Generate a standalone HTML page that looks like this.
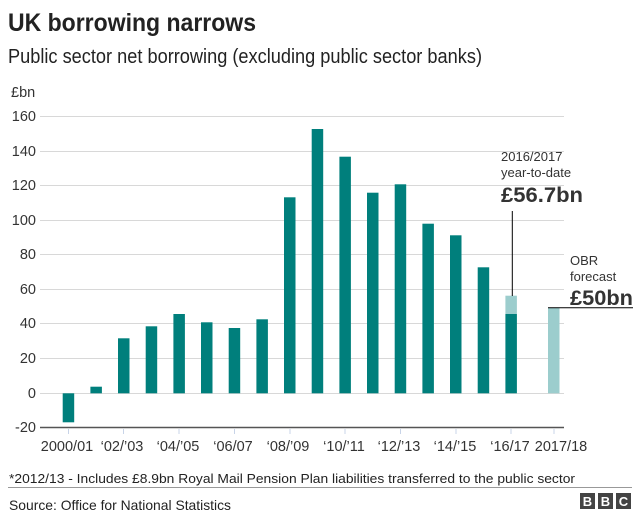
<!DOCTYPE html>
<html><head><meta charset="utf-8"><style>
html,body{margin:0;padding:0;background:#fff}
svg{display:block;font-family:"Liberation Sans",Arial,sans-serif}
</style></head><body>
<svg width="640" height="520" viewBox="0 0 640 520" xmlns="http://www.w3.org/2000/svg">
<text x="8" y="31" font-size="25" font-weight="bold" fill="#222" textLength="248" lengthAdjust="spacingAndGlyphs">UK borrowing narrows</text>
<text x="8" y="63" font-size="20" fill="#222" textLength="474" lengthAdjust="spacingAndGlyphs">Public sector net borrowing (excluding public sector banks)</text>
<g font-size="14.5" fill="#333">
<text x="11" y="97">£bn</text>
<text x="36" y="121" text-anchor="end">160</text>
<text x="36" y="156" text-anchor="end">140</text>
<text x="36" y="190" text-anchor="end">120</text>
<text x="36" y="225" text-anchor="end">100</text>
<text x="36" y="259" text-anchor="end">80</text>
<text x="36" y="294" text-anchor="end">60</text>
<text x="36" y="328" text-anchor="end">40</text>
<text x="36" y="363" text-anchor="end">20</text>
<text x="36" y="398" text-anchor="end">0</text>
<text x="36" y="432" text-anchor="end">-20</text>
</g>
<g stroke="#d8d8d8" stroke-width="1">
<line x1="40" x2="564" y1="116.5" y2="116.5"/>
<line x1="40" x2="564" y1="151.5" y2="151.5"/>
<line x1="40" x2="564" y1="185.5" y2="185.5"/>
<line x1="40" x2="564" y1="220.5" y2="220.5"/>
<line x1="40" x2="564" y1="254.5" y2="254.5"/>
<line x1="40" x2="564" y1="289.5" y2="289.5"/>
<line x1="40" x2="564" y1="323.5" y2="323.5"/>
<line x1="40" x2="564" y1="358.5" y2="358.5"/>
<line x1="40" x2="564" y1="393.5" y2="393.5"/>
</g>
<g fill="#007f7c">
<rect x="62.7" y="393.3" width="11.5" height="29"/>
<rect x="90.4" y="386.7" width="11.5" height="6.6"/>
<rect x="118" y="338.3" width="11.5" height="55"/>
<rect x="145.7" y="326.3" width="11.5" height="67"/>
<rect x="173.4" y="314" width="11.5" height="79.3"/>
<rect x="201" y="322.3" width="11.5" height="71"/>
<rect x="228.7" y="328" width="11.5" height="65.3"/>
<rect x="256.4" y="319.3" width="11.5" height="74"/>
<rect x="284" y="197.3" width="11.5" height="196"/>
<rect x="311.7" y="129" width="11.5" height="264.3"/>
<rect x="339.4" y="156.7" width="11.5" height="236.6"/>
<rect x="367" y="192.7" width="11.5" height="200.6"/>
<rect x="394.7" y="184.3" width="11.5" height="209"/>
<rect x="422.4" y="223.7" width="11.5" height="169.6"/>
<rect x="450" y="235.3" width="11.5" height="158"/>
<rect x="477.7" y="267.3" width="11.5" height="126"/>
<rect x="505.4" y="314" width="11.5" height="79.3"/>
</g>
<g fill="#9ccdcd">
<rect x="505.4" y="295.7" width="11.5" height="18.3"/>
<rect x="548" y="307.7" width="11.5" height="85.6"/>
</g>
<line x1="40" x2="564" y1="427.5" y2="427.5" stroke="#555" stroke-width="1.5"/>
<g stroke="#c8d4e8" stroke-width="1">
<line x1="68.5" x2="68.5" y1="429" y2="434"/>
<line x1="123.5" x2="123.5" y1="429" y2="434"/>
<line x1="179" x2="179" y1="429" y2="434"/>
<line x1="234.5" x2="234.5" y1="429" y2="434"/>
<line x1="290" x2="290" y1="429" y2="434"/>
<line x1="345" x2="345" y1="429" y2="434"/>
<line x1="400.5" x2="400.5" y1="429" y2="434"/>
<line x1="456" x2="456" y1="429" y2="434"/>
<line x1="511" x2="511" y1="429" y2="434"/>
<line x1="554" x2="554" y1="429" y2="434"/>
</g>
<g font-size="14.5" fill="#333" text-anchor="middle">
<text x="67" y="451">2000/01</text>
<text x="122" y="451">‘02/’03</text>
<text x="178" y="451">‘04/’05</text>
<text x="233" y="451">‘06/07</text>
<text x="288" y="451">‘08/’09</text>
<text x="344" y="451">‘10/’11</text>
<text x="399" y="451">‘12/’13</text>
<text x="455" y="451">‘14/’15</text>
<text x="510" y="451">‘16/17</text>
<text x="561" y="451">2017/18</text>
</g>
<line x1="512.3" x2="512.3" y1="211" y2="296" stroke="#000" stroke-width="1"/>
<line x1="548" x2="633" y1="307.7" y2="307.7" stroke="#000" stroke-width="1"/>
<g fill="#333">
<text x="501" y="161" font-size="13">2016/2017</text>
<text x="501" y="177" font-size="13">year-to-date</text>
<text x="501" y="202" font-size="21" font-weight="bold" textLength="82" lengthAdjust="spacingAndGlyphs">£56.7bn</text>
<text x="570" y="265" font-size="13">OBR</text>
<text x="570" y="281" font-size="13">forecast</text>
<text x="570" y="305" font-size="21" font-weight="bold" textLength="63" lengthAdjust="spacingAndGlyphs">£50bn</text>
</g>
<text x="9" y="483" font-size="13" fill="#222" textLength="566" lengthAdjust="spacingAndGlyphs">*2012/13 - Includes £8.9bn Royal Mail Pension Plan liabilities transferred to the public sector</text>
<line x1="8" x2="632" y1="487.5" y2="487.5" stroke="#999" stroke-width="1"/>
<text x="9" y="510" font-size="14" fill="#222" textLength="222" lengthAdjust="spacingAndGlyphs">Source: Office for National Statistics</text>
<g>
<rect x="580" y="493" width="15" height="16" fill="#444"/>
<rect x="598" y="493" width="15" height="16" fill="#444"/>
<rect x="616" y="493" width="15" height="16" fill="#444"/>
<g font-size="13" font-weight="bold" fill="#fff" text-anchor="middle">
<text x="587.5" y="506">B</text><text x="605.5" y="506">B</text><text x="623.5" y="506">C</text>
</g>
</g>
</svg>
</body></html>
